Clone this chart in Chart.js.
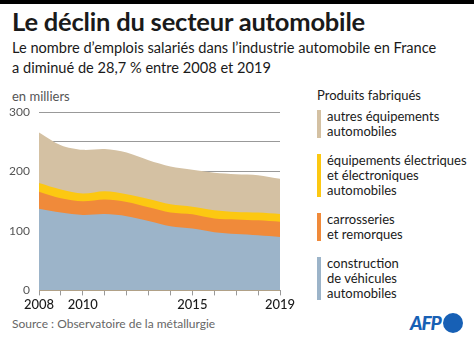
<!DOCTYPE html>
<html lang="fr">
<head>
<meta charset="UTF-8">
<title>Le déclin du secteur automobile</title>
<script src="https://cdn.jsdelivr.net/npm/chart.js"></script>
<style>
  body { margin: 0; width: 474px; height: 338px; background: #fff; position: relative; overflow: hidden;
         font-family: Lato, "Noto Sans", sans-serif; color: #1a1a1a; }
  .topbar { position: absolute; left: 0; top: 0; width: 474px; height: 4px; background: #000; }
  h1 { position: absolute; left: 12px; top: 6px; margin: 0; font-size: 25.5px; font-weight: 700; letter-spacing: -0.2px; }
  .sub { position: absolute; left: 12px; top: 38px; font-size: 14.6px; line-height: 20px; }
  .unit { position: absolute; left: 12px; top: 88px; font-size: 13px; color: #555; }
  #wrap { position: absolute; left: 0; top: 96px; width: 300px; height: 219px; }
  .legend { position: absolute; left: 317px; top: 88px; font-size: 13px; line-height: 15px; }
  .legend .head { margin-bottom: 6px; }
  .item { position: relative; padding-left: 10px; margin-bottom: 14px; }
  .item i { position: absolute; left: 0; top: 1px; bottom: 1px; width: 4px; }
  .src { position: absolute; left: 12px; top: 316px; font-size: 12px; color: #666; }
  .afp { position: absolute; left: 410px; top: 311px; font-size: 19px; font-weight: 900; font-style: italic; color: #1760b5; letter-spacing: -1px; }
  .afp span { display: inline-block; width: 20px; height: 20px; border-radius: 50%; background: #1760b5; vertical-align: -3px; margin-left: 2px; }
</style>
</head>
<body>
<div class="topbar"></div>
<h1>Le déclin du secteur automobile</h1>
<div class="sub">Le nombre d’emplois salariés dans l’industrie automobile en France<br>a diminué de 28,7 % entre 2008 et 2019</div>
<div class="unit">en milliers</div>
<div id="wrap"><canvas id="c" width="300" height="219"></canvas></div>
<div class="legend">
  <div class="head">Produits fabriqués</div>
  <div class="item"><i style="background:#d4c1a3"></i>autres équipements<br>automobiles</div>
  <div class="item"><i style="background:#fcc812"></i>équipements électriques<br>et électroniques<br>automobiles</div>
  <div class="item"><i style="background:#f08a3a"></i>carrosseries<br>et remorques</div>
  <div class="item"><i style="background:#9cb4c9"></i>construction<br>de véhicules<br>automobiles</div>
</div>
<div class="src">Source : Observatoire de la métallurgie</div>
<div class="afp">AFP<span></span></div>

<script>
const years = ['2008','2009','2010','2011','2012','2013','2014','2015','2016','2017','2018','2019'];
const shownYears = ['2008','2010','2015','2019'];
// milliers d'emplois, par catégorie
const construction = [137.5, 131, 127, 128.5, 125, 117, 108, 104, 98, 95, 93, 90];
const carrosseries = [28.5, 24, 23, 24.5, 24, 23, 23, 24, 23, 24.5, 25, 25.5];
const electriques = [15, 15, 13, 14, 13, 14, 14, 13, 14, 12.5, 13, 13];
const autres = [85, 74.5, 73.6, 71, 70, 65, 63.5, 62, 63, 63.5, 63, 59.5];
const yTicks = [0, 100, 200, 300];

const mk = (label, data, color) => ({
  label, data, backgroundColor: color, borderWidth: 0, pointRadius: 0,
  fill: true, tension: 0.3
});

new Chart(document.getElementById('c'), {
  type: 'line',
  data: {
    labels: years,
    datasets: [
      mk('construction de véhicules automobiles', construction, '#9cb4c9'),
      mk('carrosseries et remorques', carrosseries, '#f08a3a'),
      mk('équipements électriques et électroniques automobiles', electriques, '#fcc812'),
      mk('autres équipements automobiles', autres, '#d4c1a3')
    ]
  },
  options: {
    responsive: false,
    animation: false,
    layout: { padding: { top: 9, right: 20, left: 0, bottom: 0 } },
    plugins: { legend: { display: false }, tooltip: { enabled: false } },
    scales: {
      x: {
        offset: false,
        grid: { drawOnChartArea: false, tickLength: 5, color: '#999' },
        border: { color: '#999' },
        ticks: {
          autoSkip: false, maxRotation: 0, color: '#1a1a1a', padding: 2,
          font: { family: 'Lato', size: 13, weight: '500' },
          callback: function (v) { const l = this.getLabelForValue(v); return shownYears.includes(l) ? l : ''; }
        }
      },
      y: {
        stacked: true, min: 0, max: 300, z: 1,
        afterFit: s => { s.width = 39; },
        border: { display: false },
        grid: {
          color: ctx => ctx.tick.value === 0 ? 'rgba(0,0,0,0)' : '#999',
          borderDash: [1, 3], drawTicks: false, lineWidth: 1
        },
        ticks: {
          stepSize: 50, padding: 9, color: '#555',
          font: { family: 'Lato', size: 12 },
          callback: v => yTicks.includes(v) ? v : ''
        }
      }
    }
  }
});
</script>
</body>
</html>
